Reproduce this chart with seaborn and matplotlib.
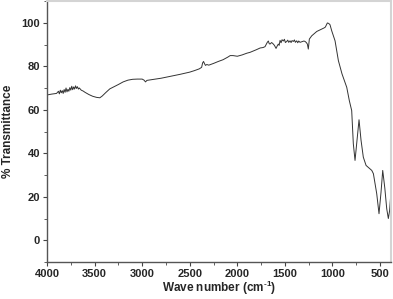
import numpy as np
import pandas as pd
import seaborn as sns
import matplotlib.pyplot as plt
from matplotlib.ticker import MultipleLocator

# FTIR spectrum
wavenumber = [4000, 3950, 3900, 3880, 3870, 3860, 3850, 3840, 3830, 3820, 3810, 3800,
              3790, 3780, 3770, 3760, 3750, 3740, 3730, 3720, 3710, 3700, 3690, 3680,
              3670, 3660, 3640, 3620, 3600, 3560, 3520, 3480, 3445, 3420, 3380, 3340,
              3300, 3250, 3200, 3150, 3100, 3050, 3000, 2980, 2965, 2950, 2900, 2800,
              2700, 2600, 2500, 2450, 2400, 2375, 2365, 2355, 2345, 2335, 2320, 2300,
              2250, 2200, 2150, 2100, 2075, 2045, 2000, 1950, 1900, 1866, 1800, 1760,
              1730, 1709, 1695, 1685, 1674, 1665, 1656, 1640, 1628, 1610, 1593, 1580,
              1569, 1560, 1551, 1540, 1530, 1517, 1505, 1495, 1481, 1470, 1460, 1446,
              1435, 1425, 1411, 1400, 1390, 1376, 1365, 1355, 1341, 1320, 1300, 1288,
              1275, 1264, 1254, 1243, 1218, 1165, 1113, 1089, 1075, 1054, 1040, 1026,
              1008, 973, 938, 900, 850, 823, 798, 781, 763, 746, 721, 700, 676, 647,
              587, 570, 535, 511, 490, 472, 450, 430, 413, 400, 388]
transmittance = [66.8, 67.2, 67.5, 68.5, 67.3, 69.0, 67.8, 68.8, 67.5, 69.3, 68.0, 70.0,
                 68.2, 69.4, 68.5, 70.2, 69.0, 70.8, 69.2, 70.5, 69.5, 71.0, 69.8, 70.6,
                 69.5, 70.0, 69.0, 68.6, 68.0, 67.0, 66.2, 65.7, 65.5, 66.3, 68.0, 69.6,
                 70.5, 71.6, 72.8, 73.6, 74.0, 74.1, 74.1, 73.6, 72.8, 73.5, 73.8, 74.5,
                 75.4, 76.3, 77.3, 78.0, 78.8, 79.5, 81.5, 82.2, 81.2, 80.4, 80.8, 80.5,
                 81.3, 82.2, 83.0, 84.2, 84.9, 84.9, 84.6, 85.2, 86.0, 86.4, 87.6, 88.4,
                 88.6, 89.0, 90.2, 91.0, 91.6, 90.4, 90.2, 90.9, 90.5, 89.6, 88.2, 89.4,
                 90.2, 89.6, 91.9, 90.8, 92.2, 91.6, 92.4, 90.9, 91.4, 92.0, 91.0, 91.7,
                 90.9, 91.8, 91.4, 92.1, 91.0, 91.7, 90.8, 91.6, 91.0, 91.3, 91.6, 91.4,
                 90.9, 90.2, 87.9, 92.5, 94.0, 96.0, 97.1, 97.6, 98.0, 99.9, 99.7, 99.1,
                 96.3, 91.7, 82.6, 76.5, 70.3, 64.2, 59.6, 44.4, 36.7, 44.4, 55.4, 46.0,
                 38.2, 34.4, 32.1, 30.6, 21.4, 12.2, 22.0, 32.1, 24.0, 14.5, 10.0, 13.5,
                 20.6]

df = pd.DataFrame({"wn": wavenumber, "T": transmittance})

sns.set_style("ticks")
plt.rcParams["font.family"] = ["Liberation Sans", "DejaVu Sans"]
plt.rcParams["mathtext.fontset"] = "custom"
plt.rcParams["mathtext.rm"] = "Liberation Sans:bold"
plt.rcParams["mathtext.bf"] = "Liberation Sans:bold"
plt.rcParams["mathtext.it"] = "Liberation Sans:bold"

fig = plt.figure(figsize=(3.93, 2.99), dpi=100)
ax = fig.add_axes([47 / 393, 37 / 299, 344 / 393, 261 / 299])

sns.lineplot(data=df, x="wn", y="T", ax=ax, color="#333333", linewidth=0.7)

ax.set_xlim(4000, 385)
ax.set_ylim(-10, 110)
ax.xaxis.set_major_locator(MultipleLocator(500))
ax.xaxis.set_minor_locator(MultipleLocator(250))
ax.yaxis.set_major_locator(MultipleLocator(20))
ax.yaxis.set_minor_locator(MultipleLocator(10))
ax.set_yticks([0, 20, 40, 60, 80, 100])
ax.tick_params(which="major", direction="out", length=3, width=0.8, color="#444444",
               labelsize=8, pad=2)
ax.tick_params(which="minor", direction="out", length=2, width=0.6, color="#444444")
for lab in ax.get_xticklabels() + ax.get_yticklabels():
    lab.set_fontweight("bold")

ax.set_xlabel("Wave number (cm$^{\\text{-1}}$)", fontsize=8.5, fontweight="bold", labelpad=0)
ax.set_ylabel("% Transmittance", fontsize=8.5, fontweight="bold", labelpad=5)

for side in ["left", "bottom"]:
    ax.spines[side].set_color("#555555")
    ax.spines[side].set_linewidth(1.0)
for side in ["top", "right"]:
    ax.spines[side].set_color("#d4d4d4")
    ax.spines[side].set_linewidth(1.5)

fig.savefig("out.png", dpi=100)
